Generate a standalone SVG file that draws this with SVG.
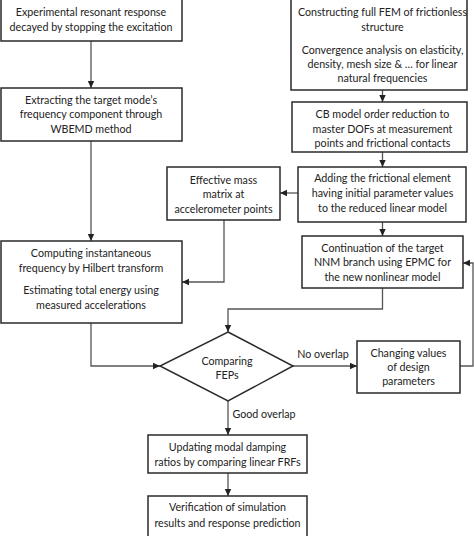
<svg xmlns="http://www.w3.org/2000/svg" width="474" height="536" viewBox="0 0 474 536">
<defs>
<marker id="ah" markerWidth="8" markerHeight="8" refX="7" refY="4" orient="auto" markerUnits="userSpaceOnUse">
<path d="M0,0.8 L7,4 L0,7.2 Z" fill="#222"/>
</marker>
<style>
.box{fill:#fff;stroke:#2a2a2a;stroke-width:1.5}
.t{font-family:Lato,"Open Sans","Liberation Sans",sans-serif;font-size:10.7px;fill:#222;text-anchor:middle}
.c{fill:none;stroke:#555;stroke-width:1.3;marker-end:url(#ah)}
</style>
</defs>
<rect width="474" height="536" fill="#fff"/>
<g id="connectors">
<path class="c" d="M91,41 V88"/>
<path class="c" d="M91,141 V241"/>
<path class="c" d="M382.5,90 V102"/>
<path class="c" d="M382.5,152 V167"/>
<path class="c" d="M298,193 H280"/>
<path class="c" d="M382.5,222 V236"/>
<path class="c" d="M224,220 V282 H182"/>
<path class="c" d="M382.5,288 V309 H228 V332"/>
<path class="c" d="M91,323 V366 H160"/>
<path class="c" d="M293,366 H357"/>
<path class="c" d="M460,366 H473 V263 H463"/>
<path class="c" d="M228,401 V435"/>
<path class="c" d="M228,473 V496"/>
</g>
<g id="n1"><rect class="box" x="1" y="-5" width="181" height="46"/>
<text class="t" x="91" y="16">Experimental resonant response</text>
<text class="t" x="91" y="30.5">decayed by stopping the excitation</text></g>
<g id="n2"><rect class="box" x="1" y="88" width="181" height="53"/>
<text class="t" x="91" y="103.5">Extracting the target mode’s</text>
<text class="t" x="91" y="118">frequency component through</text>
<text class="t" x="91" y="132.5">WBEMD method</text></g>
<g id="n3"><rect class="box" x="291" y="-5" width="176" height="95"/>
<text class="t" x="382.5" y="16">Constructing full FEM of frictionless</text>
<text class="t" x="382.5" y="30.5">structure</text>
<text class="t" x="382.5" y="54">Convergence analysis on elasticity,</text>
<text class="t" x="382.5" y="68">density, mesh size &amp; … for linear</text>
<text class="t" x="382.5" y="82">natural frequencies</text></g>
<g id="n4"><rect class="box" x="292" y="102" width="175" height="50"/>
<text class="t" x="382.5" y="118">CB model order reduction to</text>
<text class="t" x="382.5" y="133">master DOFs at measurement</text>
<text class="t" x="382.5" y="147">points and frictional contacts</text></g>
<g id="n5"><rect class="box" x="298" y="167" width="168" height="55"/>
<text class="t" x="382.5" y="182">Adding the frictional element</text>
<text class="t" x="382.5" y="197">having initial parameter values</text>
<text class="t" x="382.5" y="212">to the reduced linear model</text></g>
<g id="n6"><rect class="box" x="167" y="167" width="113" height="53"/>
<text class="t" x="223.5" y="184">Effective mass</text>
<text class="t" x="223.5" y="198">matrix at</text>
<text class="t" x="223.5" y="213">accelerometer points</text></g>
<g id="n7"><rect class="box" x="302" y="236" width="161" height="52"/>
<text class="t" x="382.5" y="252">Continuation of  the target</text>
<text class="t" x="382.5" y="266">NNM branch using EPMC for</text>
<text class="t" x="382.5" y="281">the new nonlinear model</text></g>
<g id="n8"><rect class="box" x="1" y="241" width="181" height="82"/>
<text class="t" x="91" y="257">Computing instantaneous</text>
<text class="t" x="91" y="272">frequency by Hilbert transform</text>
<text class="t" x="91" y="294">Estimating total energy using</text>
<text class="t" x="91" y="309">measured accelerations</text></g>
<g id="n9"><path class="box" d="M228,332 L293,366 L228,401 L160,366 Z"/>
<text class="t" x="227" y="365">Comparing</text>
<text class="t" x="227" y="379">FEPs</text></g>
<g id="n10"><rect class="box" x="357" y="341" width="103" height="52"/>
<text class="t" x="408.5" y="357">Changing values</text>
<text class="t" x="408.5" y="371">of design</text>
<text class="t" x="408.5" y="385">parameters</text></g>
<g id="n11"><rect class="box" x="148" y="435" width="159" height="38"/>
<text class="t" x="227.5" y="451">Updating modal damping</text>
<text class="t" x="227.5" y="466">ratios by comparing linear FRFs</text></g>
<g id="n12"><rect class="box" x="148" y="496" width="159" height="44"/>
<text class="t" x="227.5" y="511">Verification of simulation</text>
<text class="t" x="227.5" y="527">results and response prediction</text></g>
<g id="labels">
<text class="t" x="323" y="358">No overlap</text>
<text class="t" x="264" y="418">Good overlap</text>
</g>
</svg>
